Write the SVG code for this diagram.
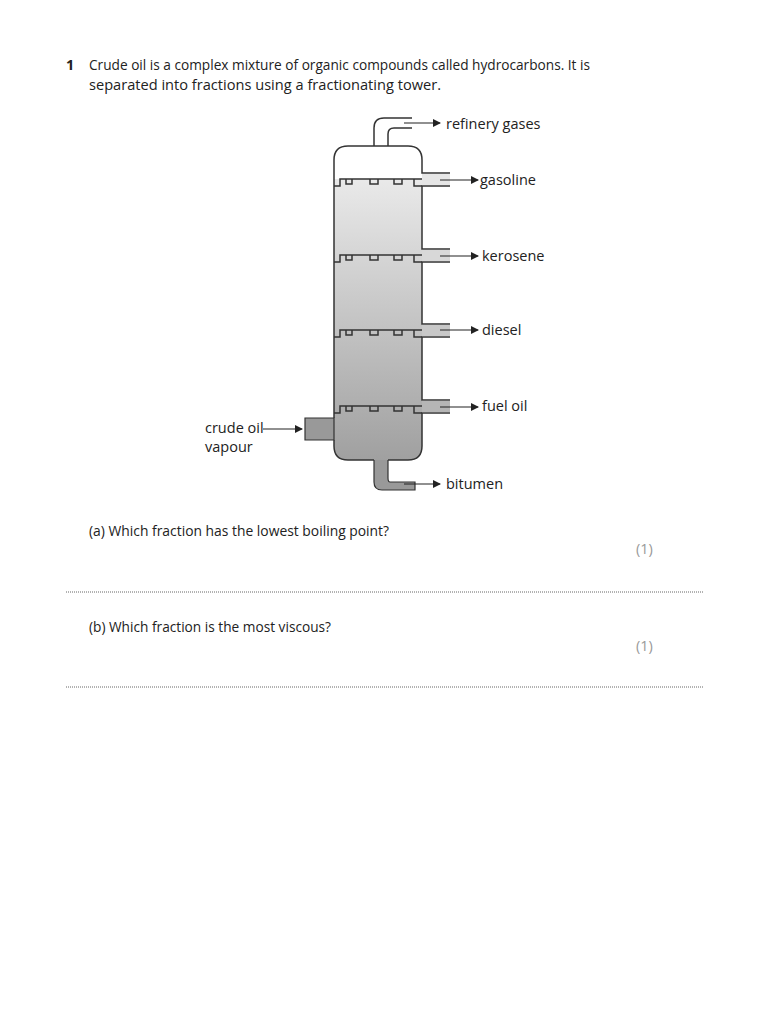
<svg xmlns="http://www.w3.org/2000/svg" width="768" height="1024" viewBox="0 0 768 1024">
<defs>
<linearGradient id="g" x1="0" y1="0" x2="0" y2="1"><stop offset="0" stop-color="#f2f2f2"/><stop offset="1" stop-color="#a0a0a0"/></linearGradient>
<marker id="ah" markerWidth="8" markerHeight="8" refX="7" refY="4" orient="auto" markerUnits="userSpaceOnUse"><path d="M0,0 L8,4 L0,8 z" fill="#222"/></marker>
</defs>
<style>
text{font-family:"Open Sans","Liberation Sans",sans-serif;font-size:14.5px;fill:#222}
.m{fill:#999}
.s{stroke:#333;stroke-width:1.5;fill:none}
.c{stroke:#222;stroke-width:1.2;fill:none;marker-end:url(#ah)}
.d{stroke:#666;stroke-width:1;stroke-dasharray:1 1}
</style>
<rect width="768" height="1024" fill="#fff"/>
<text x="66" y="70" font-weight="bold">1</text>
<text x="89" y="70" textLength="501" lengthAdjust="spacingAndGlyphs">Crude oil is a complex mixture of organic compounds called hydrocarbons.  It is</text>
<text x="89" y="90" textLength="352" lengthAdjust="spacingAndGlyphs">separated into fractions using a fractionating tower.</text>
<g id="tower">
<path d="M374,146 V128 Q374,118 384,118 H412 M388,146 V134 Q388,128 394,128 H412" class="s" stroke-width="1.3"/>
<path d="M334,160 Q334,146 348,146 H408 Q422,146 422,160 V446 Q422,460 408,460 H348 Q334,460 334,446 Z" fill="url(#g)"/>
<path d="M334,179 V160 Q334,146 348,146 H408 Q422,146 422,160 V179 Z" fill="#fff"/>
<path d="M305,418 H334 V440 H305 Z" fill="#999" stroke="#333" stroke-width="1.2"/>
<path d="M374,460 V482 Q374,490 382,490 H415 V482 H390 Q388,482 388,478 V460" fill="#999" stroke="#333" stroke-width="1.2"/>
<rect x="422" y="174" width="28" height="11" fill="#e6e6e6"/>
<rect x="422" y="250" width="28" height="11" fill="#d8d8d8"/>
<rect x="422" y="325" width="28" height="11" fill="#c8c8c8"/>
<rect x="422" y="401" width="28" height="11" fill="#b5b5b5"/>
<path class="s" d="M334,418 V160 Q334,146 348,146 H408 Q422,146 422,160 V173 H450 M450,186 H422 V249 H450 M450,262 H422 V324 H450 M450,337 H422 V400 H450 M450,413 H422 V446 Q422,460 408,460 H388 M374,460 H348 Q334,460 334,446 V440"/>
<g class="s" stroke-width="1.2">
<path d="M334,186 H340 V179 H422 M346,179 V184 H352 V179 M370,179 V184 H378 V179 M394,179 V184 H402 V179 M414,179 V186 H422"/>
<path d="M334,262 H340 V255 H422 M346,255 V260 H352 V255 M370,255 V260 H378 V255 M394,255 V260 H402 V255 M414,255 V262 H422"/>
<path d="M334,337 H340 V330 H422 M346,330 V335 H352 V330 M370,330 V335 H378 V330 M394,330 V335 H402 V330 M414,330 V337 H422"/>
<path d="M334,413 H340 V406 H422 M346,406 V411 H352 V406 M370,406 V411 H378 V406 M394,406 V411 H402 V406 M414,406 V413 H422"/>
</g>
</g>
<g id="connectors">
<path class="c" d="M404,123 H440"/>
<path class="c" d="M440,180 H478"/>
<path class="c" d="M440,256 H478"/>
<path class="c" d="M440,330 H478"/>
<path class="c" d="M440,407 H478"/>
<path class="c" d="M263,429 H302"/>
<path class="c" d="M404,484 H440"/>
</g>
<g id="labels">
<text x="446" y="129">refinery gases</text>
<text x="480" y="185">gasoline</text>
<text x="482" y="261">kerosene</text>
<text x="482" y="335">diesel</text>
<text x="482" y="411">fuel oil</text>
<text x="205" y="433">crude oil</text>
<text x="205" y="452">vapour</text>
<text x="446" y="489">bitumen</text>
</g>
<text x="89" y="536" textLength="300" lengthAdjust="spacingAndGlyphs">(a)  Which fraction has the lowest boiling point?</text>
<text x="636" y="554" class="m">(1)</text>
<line x1="66" y1="592" x2="704" y2="592" class="d"/>
<text x="89" y="632" textLength="242" lengthAdjust="spacingAndGlyphs">(b)  Which fraction is the most viscous?</text>
<text x="636" y="651" class="m">(1)</text>
<line x1="66" y1="687" x2="704" y2="687" class="d"/>
</svg>
